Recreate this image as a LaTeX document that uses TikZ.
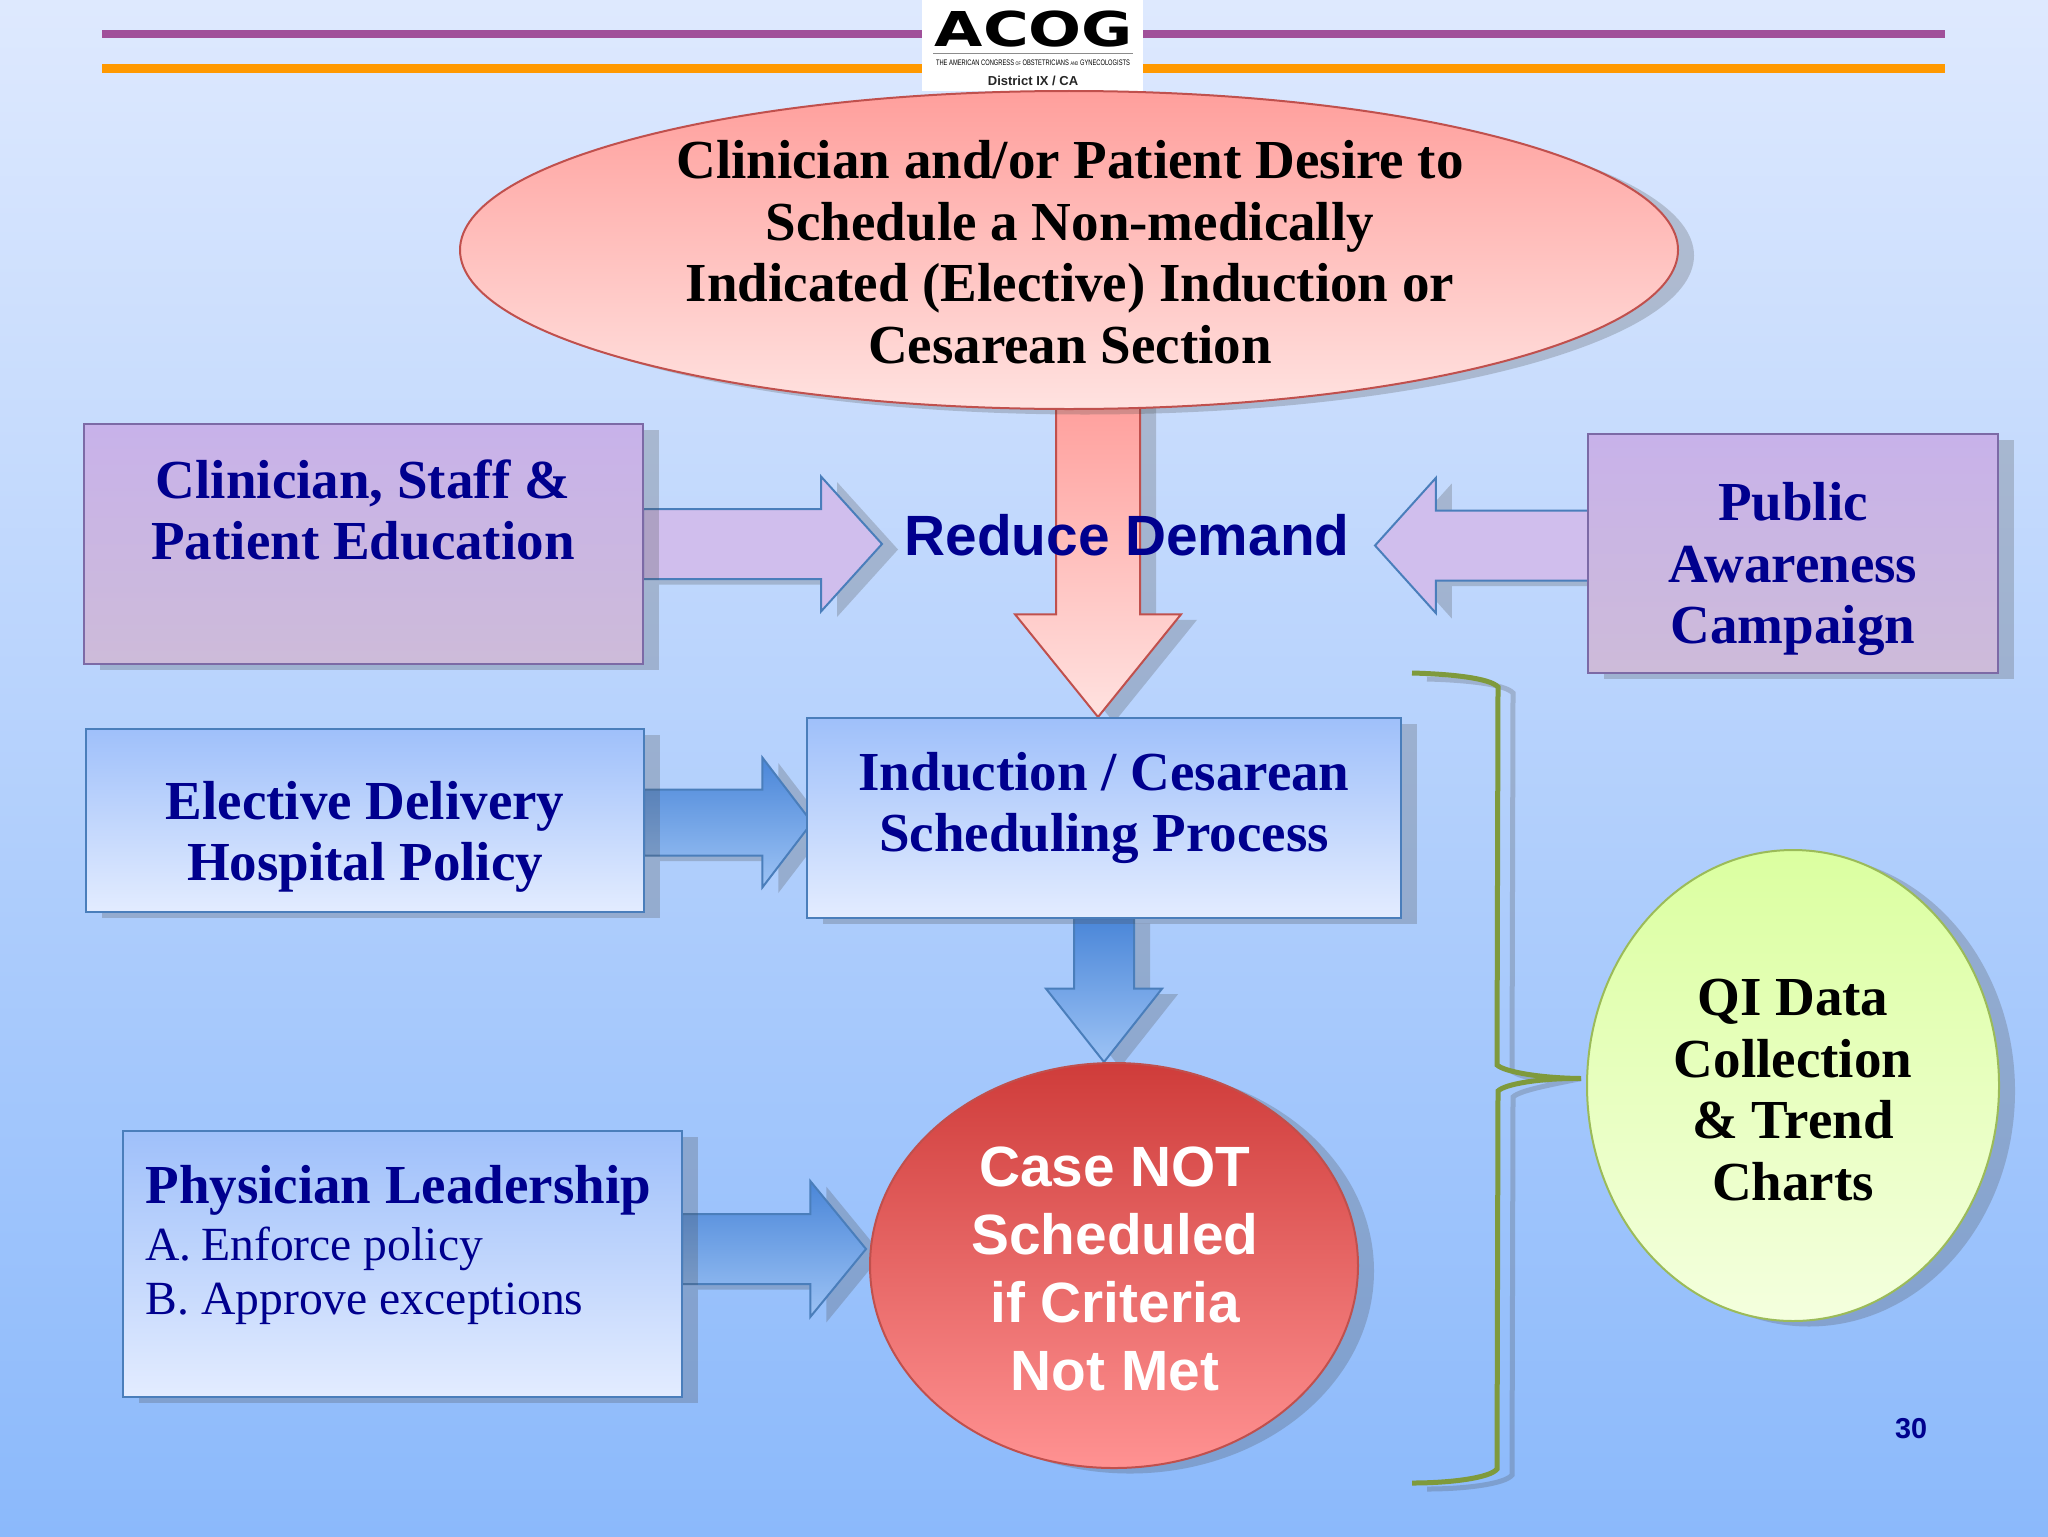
\documentclass[tikz,border=0pt]{standalone}
\usepackage{fontspec}
\setmainfont{Liberation Serif}
\setsansfont{Liberation Sans}
\newfontfamily\logofont{DejaVu Sans}
\usetikzlibrary{calc,positioning,shapes.geometric,shapes.arrows,shadows}
\pgfdeclarelayer{paper}
\pgfdeclarelayer{arrowlayer}
\pgfsetlayers{paper,arrowlayer,main}
\definecolor{navytext}{HTML}{00008E}
\definecolor{redline}{HTML}{C0504D}
\definecolor{blueline}{HTML}{4A7EBB}
\definecolor{purpleline}{HTML}{7C6AA6}
\definecolor{greenline}{HTML}{9BBB59}
\definecolor{bracketgreen}{HTML}{7F9A3C}
\definecolor{purplehi}{HTML}{C8B2EA}
\definecolor{purplelo}{HTML}{CDBBD9}
\definecolor{bluehi}{HTML}{9FC0FA}
\definecolor{bluelo}{HTML}{E3ECFF}
\definecolor{arrowhi}{HTML}{4A86D8}
\definecolor{arrowlo}{HTML}{9DC3F5}
\definecolor{pinkhi}{HTML}{FF9F9C}
\definecolor{pinklo}{HTML}{FFE2E0}
\tikzset{
  softshadow/.style={drop shadow={shadow xshift=8pt,shadow yshift=-2.75pt,fill=black!70,opacity=.25}},
  shapebox/.style n args={2}{rectangle,minimum width=#1*0.5pt,minimum height=#2*0.5pt,inner sep=0,outer sep=0,line width=1pt,softshadow},
  purplebox/.style={draw=purpleline,top color=purplehi,bottom color=purplelo},
  bluebox/.style={draw=blueline,top color=bluehi,bottom color=bluelo},
  blockarrow/.style n args={5}{single arrow,inner sep=0,outer sep=0,line width=1pt,anchor=tail,softshadow,
    minimum height=#1pt,minimum width=#2pt,single arrow head extend=#3pt,single arrow tip angle=#4,
    text width=#5pt,text height=#5pt,text depth=0pt},
  purplearrow/.style={draw=blueline,fill=purplehi!85!white},
  bluearrow/.style={draw=blueline,top color=arrowhi,bottom color=arrowlo},
  serifbold/.style={font=\fontsize{27.5pt}{30.8pt}\selectfont\bfseries,align=center,inner sep=0},
  sansbold/.style={font=\fontsize{28.4pt}{34pt}\selectfont\sffamily\bfseries,align=center,inner sep=0},
  listitem/.style={font=\fontsize{23.8pt}{26pt}\selectfont,text=navytext,anchor=west,inner sep=0},
}
\newcommand{\bracketpath}{
  (1412,673) .. controls (1450,674) and (1490,678) .. (1498,687)
  -- (1497,1065) .. controls (1505,1072) and (1540,1078) .. (brackettip)
  .. controls (1540,1078) and (1505,1084) .. (1498,1091)
  -- (1497,1469) .. controls (1490,1478) and (1450,1483) .. (1412,1483)
}
\begin{document}
\begin{tikzpicture}[x=0.5pt,y=-0.5pt]
\useasboundingbox (0,0) rectangle (2048,1536);
\begin{pgfonlayer}{paper}
\shade[top color={rgb,255:red,222;green,233;blue,254},middle color={rgb,255:red,184;green,214;blue,255},bottom color={rgb,255:red,139;green,185;blue,251}] (0,0) rectangle (2048,1536);
\end{pgfonlayer}
% HEADER
\draw[line width=4.25pt,draw={rgb,255:red,160;green,80;blue,154}] (102,34) -- (1945,34);
\draw[line width=4.25pt,draw={rgb,255:red,255;green,153;blue,0}] (102,68.5) -- (1945,68.5);
\node[fill=white,minimum width=110.5pt,minimum height=45.5pt,inner sep=0,anchor=north west] (logo) at (922,0) {};
\node[font=\logofont\bfseries\fontsize{24pt}{24pt}\selectfont,xscale=1.3,inner sep=0] (logoname) at (1034,29.5) {ACOG};
\draw[black!45,line width=0.5pt] (933,54) -- (1133,54);
\node[font=\sffamily\fontsize{4pt}{4pt}\selectfont,xscale=0.72,inner sep=0] (logosub) at (1033,63) {THE AMERICAN CONGRESS {\fontsize{2.6pt}{3pt}\selectfont OF} OBSTETRICIANS {\fontsize{2.6pt}{3pt}\selectfont AND} GYNECOLOGISTS};
\node[font=\sffamily\bfseries\fontsize{6.5pt}{7pt}\selectfont,text=black!85,inner sep=0] (logodistrict) at (1033,81) {District IX / CA};
% SHAPES
\node[ellipse,minimum width=609pt,minimum height=159pt,inner sep=0,outer sep=0,draw=redline,line width=1pt,softshadow,top color=pinkhi,bottom color=pinklo] (wish) at (1069,250) {};
\node[shapebox={559}{240},purplebox] (education) at (363.5,544) {};
\node[shapebox={410}{239},purplebox] (public) at (1793,553.5) {};
\node[shapebox={558}{183},bluebox] (policy) at (365,820.5) {};
\node[shapebox={594}{200},bluebox] (induction) at (1104,818) {};
\node[shapebox={559}{266},bluebox] (leadership) at (402.5,1264) {};
\node[ellipse,minimum width=244pt,minimum height=202.5pt,inner sep=0,outer sep=0,draw=redline,line width=1pt,softshadow,top color={rgb,255:red,207;green,60;blue,58},bottom color={rgb,255:red,255;green,146;blue,146}] (notmet) at (1114,1265.5) {};
\node[ellipse,minimum width=206pt,minimum height=235.5pt,inner sep=0,outer sep=0,draw=greenline,line width=1pt,softshadow,top color={rgb,255:red,219;green,255;blue,160},bottom color={rgb,255:red,244;green,255;blue,222}] (qi) at (1793,1085.5) {};
% BLOCK ARROWS
\begin{pgfonlayer}{arrowlayer}
\node[blockarrow={158.5}{82.5}{20.5}{77.9}{41},shape border rotate=270,draw=redline,top color=pinkhi,bottom color=pinklo] (wisharrow) at ($(wish.south)+(29,-9)$) {};
\node[blockarrow={119.5}{66.5}{16.25}{95.8}{34},purplearrow] (educationarrow) at (education.east) {};
\node[blockarrow={106.5}{66.5}{16.25}{96}{34},shape border rotate=180,purplearrow] (publicarrow) at ($(public.west)+(0,-8)$) {};
\node[blockarrow={84}{64}{16}{105.2}{32},bluearrow] (policyarrow) at ($(policy.east)+(0,2)$) {};
\node[blockarrow={72}{57}{14}{76.7}{29},shape border rotate=270,bluearrow] (inductionarrow) at (induction.south) {};
\node[blockarrow={92}{67}{16.5}{101.3}{34},bluearrow] (leadershiparrow) at ($(leadership.east)+(0,-15)$) {};
\end{pgfonlayer}
% BRACKET
\coordinate (brackettip) at ($(qi.west)+(-6,-7)$);
\draw[line width=2.5pt,black!70,opacity=.25,shift={(15,6)}] \bracketpath;
\draw[line width=2.5pt,bracketgreen] \bracketpath;
% TEXT
\node[serifbold] (wishtext) at (1070,252) {Clinician and/or Patient Desire to\\Schedule a Non-medically\\Indicated (Elective) Induction or\\Cesarean Section};
\node[serifbold,text=navytext] (educationtext) at (363,510) {Clinician, Staff \&\\Patient Education};
\node[serifbold,text=navytext] (publictext) at (1793,569) {Public\\Awareness\\Campaign};
\node[serifbold,text=navytext] (policytext) at (365,837) {Elective Delivery\\Hospital Policy};
\node[serifbold,text=navytext] (inductiontext) at (1104,808) {Induction / Cesarean\\Scheduling Process};
\node[sansbold,text=navytext] (demand) at (1127,535) {Reduce Demand};
\node[sansbold,text=white] (notmettext) at (1115,1269) {Case NOT\\Scheduled\\if Criteria\\Not Met};
\node[serifbold] (qitext) at (1793,1090) {QI Data\\Collection\\\& Trend\\Charts};
\node[serifbold,text=navytext,anchor=west] (leadertitle) at (145,1190) {Physician Leadership};
\node[listitem] (leaderA) at (145,1249) {\makebox[28pt][l]{A.}Enforce policy};
\node[listitem] (leaderB) at (145,1304) {\makebox[28pt][l]{B.}Approve exceptions};
\node[font=\fontsize{14.4pt}{16pt}\selectfont\sffamily\bfseries,text=navytext,inner sep=0] (pagenum) at (1911,1429) {30};
\end{tikzpicture}
\end{document}
